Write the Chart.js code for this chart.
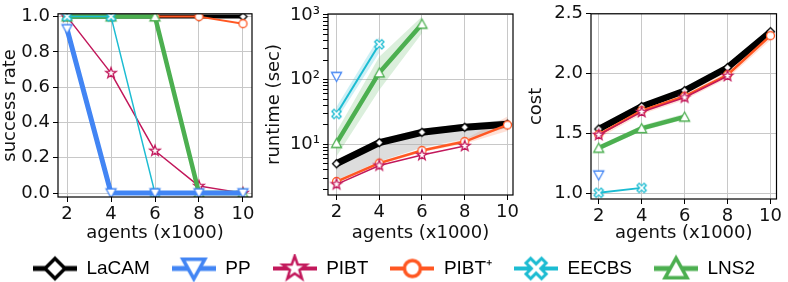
<!DOCTYPE html>
<html>
<head>
<meta charset="utf-8">
<script src="https://cdn.jsdelivr.net/npm/chart.js@4.4.1/dist/chart.umd.min.js"></script>
<style>
  body { margin: 0; background: #fff; width: 788px; height: 282px; overflow: hidden; position: relative; }
  canvas { position: absolute; }
</style>
</head>
<body>
<canvas id="c1" width="262" height="245" style="left:0;top:0"></canvas>
<canvas id="c2" width="263" height="245" style="left:262px;top:0"></canvas>
<canvas id="c3" width="263" height="245" style="left:525px;top:0"></canvas>
<canvas id="lg" width="788" height="45" style="left:0;top:237px"></canvas>
<script>
// 横軸
const agents = [2, 4, 6, 8, 10];
const names = ['LaCAM', 'PP', 'PIBT', 'PIBT⁺', 'EECBS', 'LNS2'];
const colors = ['#000000', '#4285F4', '#C2185B', '#FF5722', '#1CBCD2', '#4CAF50'];

// success rate
const succLaCAM = [1, 1, 1, 1, 1];
const succPP = [0.93, 0, 0, 0, 0];
const succPIBT = [1, 0.68, 0.24, 0.04, 0];
const succPIBTp = [1, 1, 1, 1, 0.96];
const succEECBS = [1, 1, 0, null, null];
const succLNS2 = [1, 1, 1, 0, 0];

// runtime (sec)
const timeLaCAM = [5.0, 10.6, 15.3, 18.3, 20.4];
const timeLaCAMlo = [2.8, 5.4, 8.8, 12.0, 18.0];
const timeLaCAMhi = [5.8, 12.0, 17.5, 20.5, 24.0];
const timePP = [111, null, null, null, null];
const timePIBT = [2.4, 4.7, 6.8, 9.4, null];
const timePIBTp = [2.65, 5.1, 8.0, 11.0, 19.9];
const timePIBTplo = [2.5, 4.8, 7.5, 10.2, 16.0];
const timePIBTphi = [2.8, 5.4, 8.5, 12.0, 27.0];
const timeEECBS = [29.4, 352, null, null, null];
const timeEECBSlo = [24, 260, null, null, null];
const timeEECBShi = [38, 460, null, null, null];
const timeLNS2 = [10.4, 128, 726, null, null];
const timeLNS2lo = [6.5, 69, 520, null, null];
const timeLNS2hi = [15.7, 226, 950, null, null];

// cost
const costLaCAM = [1.536, 1.725, 1.857, 2.05, 2.35];
const costPP = [1.15, null, null, null, null];
const costPIBT = [1.487, 1.679, 1.80, 1.98, null];
const costPIBTp = [1.49, 1.69, 1.81, 1.99, 2.317];
const costPIBTplo = [1.46, 1.66, 1.78, 1.96, 2.28];
const costPIBTphi = [1.52, 1.72, 1.84, 2.02, 2.35];
const costEECBS = [1.003, 1.044, null, null, null];
const costLNS2 = [1.378, 1.542, 1.638, null, null];
const costLNS2lo = [1.355, 1.52, 1.615, null, null];
const costLNS2hi = [1.40, 1.565, 1.665, null, null];

const tickFont = { family: '"DejaVu Sans", sans-serif', size: 18 };
const gridColor = '#c8c8c8';

// マーカー形状
function tracePath(g, kind, r) {
  g.beginPath();
  if (kind === 'circle') {
    g.arc(0, 0, r, 0, Math.PI * 2);
    return;
  }
  let p = [];
  if (kind === 'diamond') p = [[0, -r], [r, 0], [0, r], [-r, 0]];
  if (kind === 'down') p = [[-r, -0.85 * r], [r, -0.85 * r], [0, 0.95 * r]];
  if (kind === 'up') p = [[-r, 0.85 * r], [r, 0.85 * r], [0, -0.95 * r]];
  if (kind === 'star') {
    for (let i = 0; i < 10; i++) {
      const a = -Math.PI / 2 + i * Math.PI / 5;
      const rr = i % 2 ? r * 0.4 : r;
      p.push([rr * Math.cos(a), rr * Math.sin(a)]);
    }
  }
  if (kind === 'x') {
    const w = r * 0.3;
    const plus = [[w, r], [w, w], [r, w], [r, -w], [w, -w], [w, -r], [-w, -r], [-w, -w], [-r, -w], [-r, w], [-w, w], [-w, r]];
    const c = Math.SQRT1_2;
    p = plus.map(([x, y]) => [c * (x - y), c * (x + y)]);
  }
  p.forEach(([x, y], i) => (i ? g.lineTo(x, y) : g.moveTo(x, y)));
  g.closePath();
}

function makeMarker(kind, color, r, lw, lineW) {
  const w = lineW ? 44 : Math.ceil(2 * r + 2 * lw + 2);
  const h = lineW ? 30 : w;
  const c = document.createElement('canvas');
  c.width = w;
  c.height = h;
  const g = c.getContext('2d');
  g.translate(w / 2, h / 2);
  if (lineW) {
    g.strokeStyle = color;
    g.lineWidth = lineW;
    g.beginPath();
    g.moveTo(-w / 2, 0);
    g.lineTo(w / 2, 0);
    g.stroke();
  }
  tracePath(g, kind, r);
  g.fillStyle = '#fff';
  g.fill();
  g.strokeStyle = color;
  g.lineWidth = lw;
  g.lineJoin = 'miter';
  g.stroke();
  return c;
}

const kinds = ['diamond', 'down', 'star', 'circle', 'x', 'up'];
const smallR = [4, 5, 5.5, 4, 5, 5];
const marks = kinds.map((k, i) => makeMarker(k, colors[i], smallR[i], 1.3, 0));
const legR = [10, 11, 12.5, 8, 11, 11];
const legLw = [3.5, 3.5, 2.5, 3.5, 3, 3.5];
const legLine = [5, 5, 4, 4, 4, 5];
const legMarks = kinds.map((k, i) => makeMarker(k, colors[i], legR[i], legLw[i], legLine[i]));

const pts = arr => agents.map((x, i) => ({ x: x, y: arr[i] == null ? null : arr[i] }));

function series(arr, i, lw) {
  return {
    label: names[i],
    data: pts(arr),
    borderColor: colors[i],
    backgroundColor: colors[i],
    borderWidth: lw,
    borderJoinStyle: 'round',
    pointStyle: marks[i],
    pointRadius: 5,
    fill: false,
    tension: 0,
    spanGaps: false,
  };
}

function band(lo, hi, rgba) {
  return [
    { data: pts(lo), borderWidth: 0, pointRadius: 0, fill: false },
    { data: pts(hi), borderWidth: 0, pointRadius: 0, fill: '-1', backgroundColor: rgba },
  ];
}

const frame = {
  id: 'frame',
  afterDatasetsDraw(chart) {
    const { ctx, chartArea: a } = chart;
    ctx.save();
    ctx.strokeStyle = '#000';
    ctx.lineWidth = 1.2;
    ctx.strokeRect(a.left, a.top, a.right - a.left, a.bottom - a.top);
    ctx.restore();
  },
};

function xScale(min, max, h) {
  return {
    type: 'linear',
    min: min,
    max: max,
    afterBuildTicks: s => { s.ticks = agents.map(v => ({ value: v })); },
    afterFit: s => { s.height = h; },
    ticks: { font: tickFont, color: '#111', padding: 2, maxRotation: 0, autoSkip: false },
    grid: { color: gridColor, tickColor: '#000', tickLength: 5 },
    border: { display: false },
    title: { display: true, text: 'agents (x1000)', font: tickFont, color: '#111', padding: { top: 0, bottom: 1 } },
  };
}

function yScale(extra, w, title, tpad) {
  return Object.assign({
    afterFit: s => { s.width = w; },
    ticks: { font: tickFont, color: '#111', padding: 3, autoSkip: false, callback: v => v.toFixed(1) },
    grid: { color: gridColor, tickColor: '#000', tickLength: 5 },
    border: { display: false },
    title: { display: true, text: title, font: tickFont, color: '#111', padding: { top: tpad, bottom: 0 } },
  }, extra);
}

function makeChart(id, datasets, x, y, pad) {
  return new Chart(document.getElementById(id), {
    type: 'line',
    data: { datasets: datasets },
    options: {
      responsive: false,
      devicePixelRatio: 1,
      animation: false,
      events: [],
      layout: { padding: pad },
      scales: { x: x, y: y },
      plugins: { legend: { display: false }, tooltip: { enabled: false } },
    },
    plugins: [frame],
  });
}

// success rate
makeChart('c1', [
  series(succPP, 1, 5),
  series(succEECBS, 4, 1.5),
  series(succLNS2, 5, 4.5),
  series(succPIBT, 2, 1.5),
  series(succPIBTp, 3, 2),
  series(succLaCAM, 0, 4),
],
  xScale(1.59, 10.41, 48),
  yScale({
    min: -0.022, max: 1.016,
    afterBuildTicks: s => { s.ticks = [0, 0.2, 0.4, 0.6, 0.8, 1.0].map(v => ({ value: v })); },
  }, 58, 'success rate', 0),
  { left: 0, right: 9, top: 6, bottom: 0 });

// runtime (log)
const sup = { 10: '10¹', 100: '10²', 1000: '10³' };
const runtimeTicks = [];
[1, 10, 100].forEach(d => { for (let k = 1; k <= 9; k++) if (k * d >= 2) runtimeTicks.push(k * d); });
runtimeTicks.push(1000);
const yTime = yScale({
  type: 'logarithmic',
  min: 1.64, max: 1036,
  afterBuildTicks: s => { s.ticks = runtimeTicks.map(v => ({ value: v })); },
}, 66, 'runtime (sec)', 2);
yTime.ticks = Object.assign({}, yTime.ticks, { callback: v => sup[v] || '' });
yTime.grid = Object.assign({}, yTime.grid, { color: c => (sup[c.tick.value] ? gridColor : 'rgba(0,0,0,0)') });
makeChart('c2', [
  series(timePP, 1, 5),
  series(timeEECBS, 4, 2),
  series(timeLNS2, 5, 4.5),
  series(timePIBT, 2, 1.5),
  series(timePIBTp, 3, 2.5),
  series(timeLaCAM, 0, 7),
  ...band(timeLaCAMlo, timeLaCAMhi, 'rgba(170,170,170,0.4)'),
  ...band(timePIBTplo, timePIBTphi, 'rgba(255,87,34,0.18)'),
  ...band(timeEECBSlo, timeEECBShi, 'rgba(28,188,210,0.22)'),
  ...band(timeLNS2lo, timeLNS2hi, 'rgba(76,175,80,0.2)'),
],
  xScale(1.6, 10.26, 50),
  yTime,
  { left: 0, right: 7, top: 14, bottom: 0 });

// cost
makeChart('c3', [
  series(costPP, 1, 5),
  series(costEECBS, 4, 2),
  series(costLNS2, 5, 4.5),
  series(costPIBT, 2, 1.5),
  series(costPIBTp, 3, 2.5),
  series(costLaCAM, 0, 6.5),
  ...band(costPIBTplo, costPIBTphi, 'rgba(255,87,34,0.18)'),
  ...band(costLNS2lo, costLNS2hi, 'rgba(76,175,80,0.25)'),
],
  xScale(1.64, 10.28, 46),
  yScale({
    min: 0.951, max: 2.5,
    afterBuildTicks: s => { s.ticks = [1.0, 1.5, 2.0, 2.5].map(v => ({ value: v })); },
  }, 66, 'cost', 1),
  { left: 0, right: 6, top: 10, bottom: 0 });

// 凡例
new Chart(document.getElementById('lg'), {
  type: 'line',
  data: { datasets: names.map(n => ({ label: n, data: [] })) },
  options: {
    responsive: false,
    devicePixelRatio: 1,
    animation: false,
    events: [],
    scales: { x: { display: false }, y: { display: false } },
    plugins: {
      tooltip: { enabled: false },
      legend: {
        display: true,
        position: 'top',
        align: 'center',
        maxHeight: 45,
        labels: {
          usePointStyle: true,
          pointStyleWidth: 44,
          padding: 22,
          color: '#000',
          font: { family: '"Liberation Sans", Arial, sans-serif', size: 19 },
          generateLabels: () => names.map((n, i) => ({
            text: n,
            pointStyle: legMarks[i],
            fillStyle: 'rgba(0,0,0,0)',
            strokeStyle: 'rgba(0,0,0,0)',
            lineWidth: 0,
            hidden: false,
            datasetIndex: i,
          })),
        },
      },
    },
  },
});
</script>
</body>
</html>
